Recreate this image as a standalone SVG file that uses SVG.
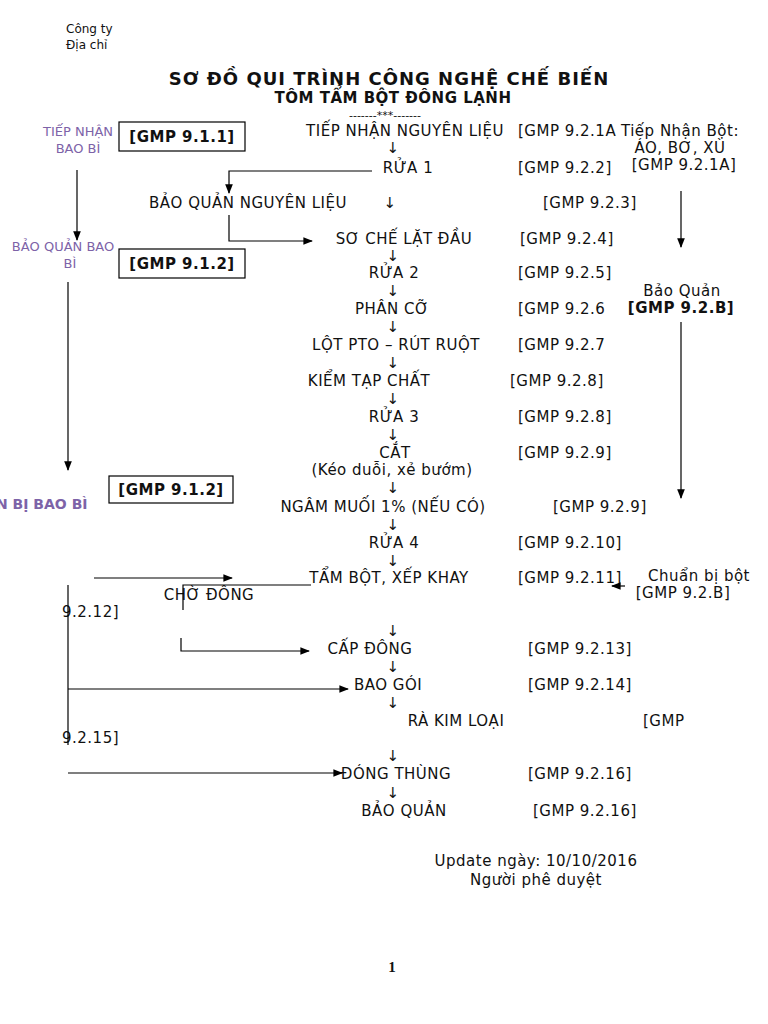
<svg xmlns="http://www.w3.org/2000/svg" width="768" height="1024" viewBox="0 0 768 1024">
<style>
text{font-family:"DejaVu Sans","Noto Sans",sans-serif;font-size:15px;letter-spacing:0.5px;fill:#111}
.m{text-anchor:middle}
.p{fill:#7d63a8;font-size:13px;letter-spacing:0}
.b{font-weight:bold}
.c line,.c polyline{stroke:#000;stroke-width:1.2;fill:none}
rect{fill:#fff;stroke:#000;stroke-width:1.2}
</style>
<defs><marker id="a" viewBox="0 0 10 10" refX="9" refY="5" markerWidth="8" markerHeight="8" orient="auto"><path d="M0,1L10,5L0,9z" fill="#000"/></marker></defs>
<rect width="768" height="1024" style="stroke:none"/>
<text x="66" y="33" style="font-size:12px;letter-spacing:0">Công ty</text>
<text x="66" y="49" style="font-size:12px;letter-spacing:0">Địa chỉ</text>
<text class="m b" x="389" y="85" style="font-size:18px;letter-spacing:1px">SƠ ĐỒ QUI TRÌNH CÔNG NGHỆ CHẾ BIẾN</text>
<text class="m b" x="393" y="103" style="font-size:15px;letter-spacing:0.5px">TÔM TẨM BỘT ĐÔNG LẠNH</text>
<text class="m" x="385" y="119" style="font-size:11px;letter-spacing:0">-------***-------</text>
<g id="main">
<text class="m" x="405" y="136">TIẾP NHẬN NGUYÊN LIỆU</text><text x="518" y="136">[GMP 9.2.1A</text>
<text class="m" x="393" y="153">↓</text>
<text class="m" x="408" y="173">RỬA 1</text><text x="518" y="173">[GMP 9.2.2]</text>
<text class="m" x="248" y="208">BẢO QUẢN NGUYÊN LIỆU</text><text class="m" x="390" y="208">↓</text><text x="543" y="208">[GMP 9.2.3]</text>
<text class="m" x="404" y="244">SƠ CHẾ LẶT ĐẦU</text><text x="520" y="244">[GMP 9.2.4]</text>
<text class="m" x="393" y="261">↓</text>
<text class="m" x="394" y="278">RỬA 2</text><text x="518" y="278">[GMP 9.2.5]</text>
<text class="m" x="393" y="296">↓</text>
<text class="m" x="392" y="314">PHÂN CỠ</text><text x="518" y="314">[GMP 9.2.6</text>
<text class="m" x="393" y="332">↓</text>
<text class="m" x="396" y="350">LỘT PTO – RÚT RUỘT</text><text x="518" y="350">[GMP 9.2.7</text>
<text class="m" x="393" y="368">↓</text>
<text class="m" x="369" y="386">KIỂM TẠP CHẤT</text><text x="510" y="386">[GMP 9.2.8]</text>
<text class="m" x="393" y="404">↓</text>
<text class="m" x="394" y="422">RỬA 3</text><text x="518" y="422">[GMP 9.2.8]</text>
<text class="m" x="393" y="440">↓</text>
<text class="m" x="395" y="458">CẮT</text><text x="518" y="458">[GMP 9.2.9]</text>
<text class="m" x="392" y="475">(Kéo duỗi, xẻ bướm)</text>
<text class="m" x="393" y="493">↓</text>
<text class="m" x="383" y="512">NGÂM MUỐI 1% (NẾU CÓ)</text><text x="553" y="512">[GMP 9.2.9]</text>
<text class="m" x="393" y="530">↓</text>
<text class="m" x="394" y="548">RỬA 4</text><text x="518" y="548">[GMP 9.2.10]</text>
<text class="m" x="393" y="566">↓</text>
<text class="m" x="389" y="583">TẨM BỘT, XẾP KHAY</text><text x="518" y="583">[GMP 9.2.11]</text>
<text class="m" x="209" y="600">CHỜ ĐÔNG</text>
<text x="62" y="617">9.2.12]</text>
<text class="m" x="393" y="636">↓</text>
<text class="m" x="370" y="654">CẤP ĐÔNG</text><text x="528" y="654">[GMP 9.2.13]</text>
<text class="m" x="393" y="672">↓</text>
<text class="m" x="388" y="690">BAO GÓI</text><text x="528" y="690">[GMP 9.2.14]</text>
<text class="m" x="393" y="708">↓</text>
<text class="m" x="456" y="726">RÀ KIM LOẠI</text><text x="643" y="726">[GMP</text>
<text x="62" y="743">9.2.15]</text>
<text class="m" x="393" y="761">↓</text>
<text class="m" x="396" y="779">ĐÓNG THÙNG</text><text x="528" y="779">[GMP 9.2.16]</text>
<text class="m" x="393" y="798">↓</text>
<text class="m" x="404" y="816">BẢO QUẢN</text><text x="533" y="816">[GMP 9.2.16]</text>
</g>
<g id="right">
<text class="m" x="680" y="136">Tiếp Nhận Bột:</text>
<text class="m" x="680" y="153">ÁO, BƠ, XÙ</text>
<text class="m" x="684" y="170">[GMP 9.2.1A]</text>
<text class="m" x="682" y="296">Bảo Quản</text>
<text class="m b" x="681" y="313">[GMP 9.2.B]</text>
<text class="m" x="699" y="581">Chuẩn bị bột</text>
<text class="m" x="683" y="598">[GMP 9.2.B]</text>
</g>
<g id="left">
<text class="m p" x="78" y="136">TIẾP NHẬN</text>
<text class="m p" x="78" y="153">BAO BÌ</text>
<rect x="119" y="122" width="126" height="29"/><text class="m b" x="182" y="142">[GMP 9.1.1]</text>
<text class="m p" x="63" y="251">BẢO QUẢN BAO</text>
<text class="m p" x="70" y="268">BÌ</text>
<rect x="119" y="249" width="126" height="29"/><text class="m b" x="182" y="269">[GMP 9.1.2]</text>
<text class="p b" x="-4" y="509" style="font-size:14px">N BỊ BAO BÌ</text>
<rect x="109" y="476" width="124" height="27"/><text class="m b" x="171" y="495">[GMP 9.1.2]</text>
</g>
<g class="c">
<polyline points="372,171 229,171 229,193" marker-end="url(#a)"/>
<polyline points="229,215 229,241 312,241" marker-end="url(#a)"/>
<line x1="681" y1="191" x2="681" y2="247" marker-end="url(#a)"/>
<line x1="681" y1="322" x2="681" y2="498" marker-end="url(#a)"/>
<line x1="625" y1="586" x2="612" y2="586" marker-end="url(#a)"/>
<line x1="77" y1="170" x2="77" y2="240" marker-end="url(#a)"/>
<line x1="68" y1="282" x2="68" y2="470" marker-end="url(#a)"/>
<line x1="94" y1="578" x2="232" y2="578" marker-end="url(#a)"/>
<polyline points="311,585 183,585 183,610"/>
<polyline points="181,638 181,651 309,651" marker-end="url(#a)"/>
<line x1="68" y1="585" x2="68" y2="745"/>
<line x1="68" y1="689" x2="348" y2="689" marker-end="url(#a)"/>
<line x1="68" y1="773" x2="342" y2="773" marker-end="url(#a)"/>
</g>
<text class="m" x="536" y="866">Update ngày: 10/10/2016</text>
<text class="m" x="536" y="885">Người phê duyệt</text>
<text class="m b" x="392" y="972" font-size="11" style="font-family:'Liberation Serif',serif;letter-spacing:0">1</text>
</svg>
